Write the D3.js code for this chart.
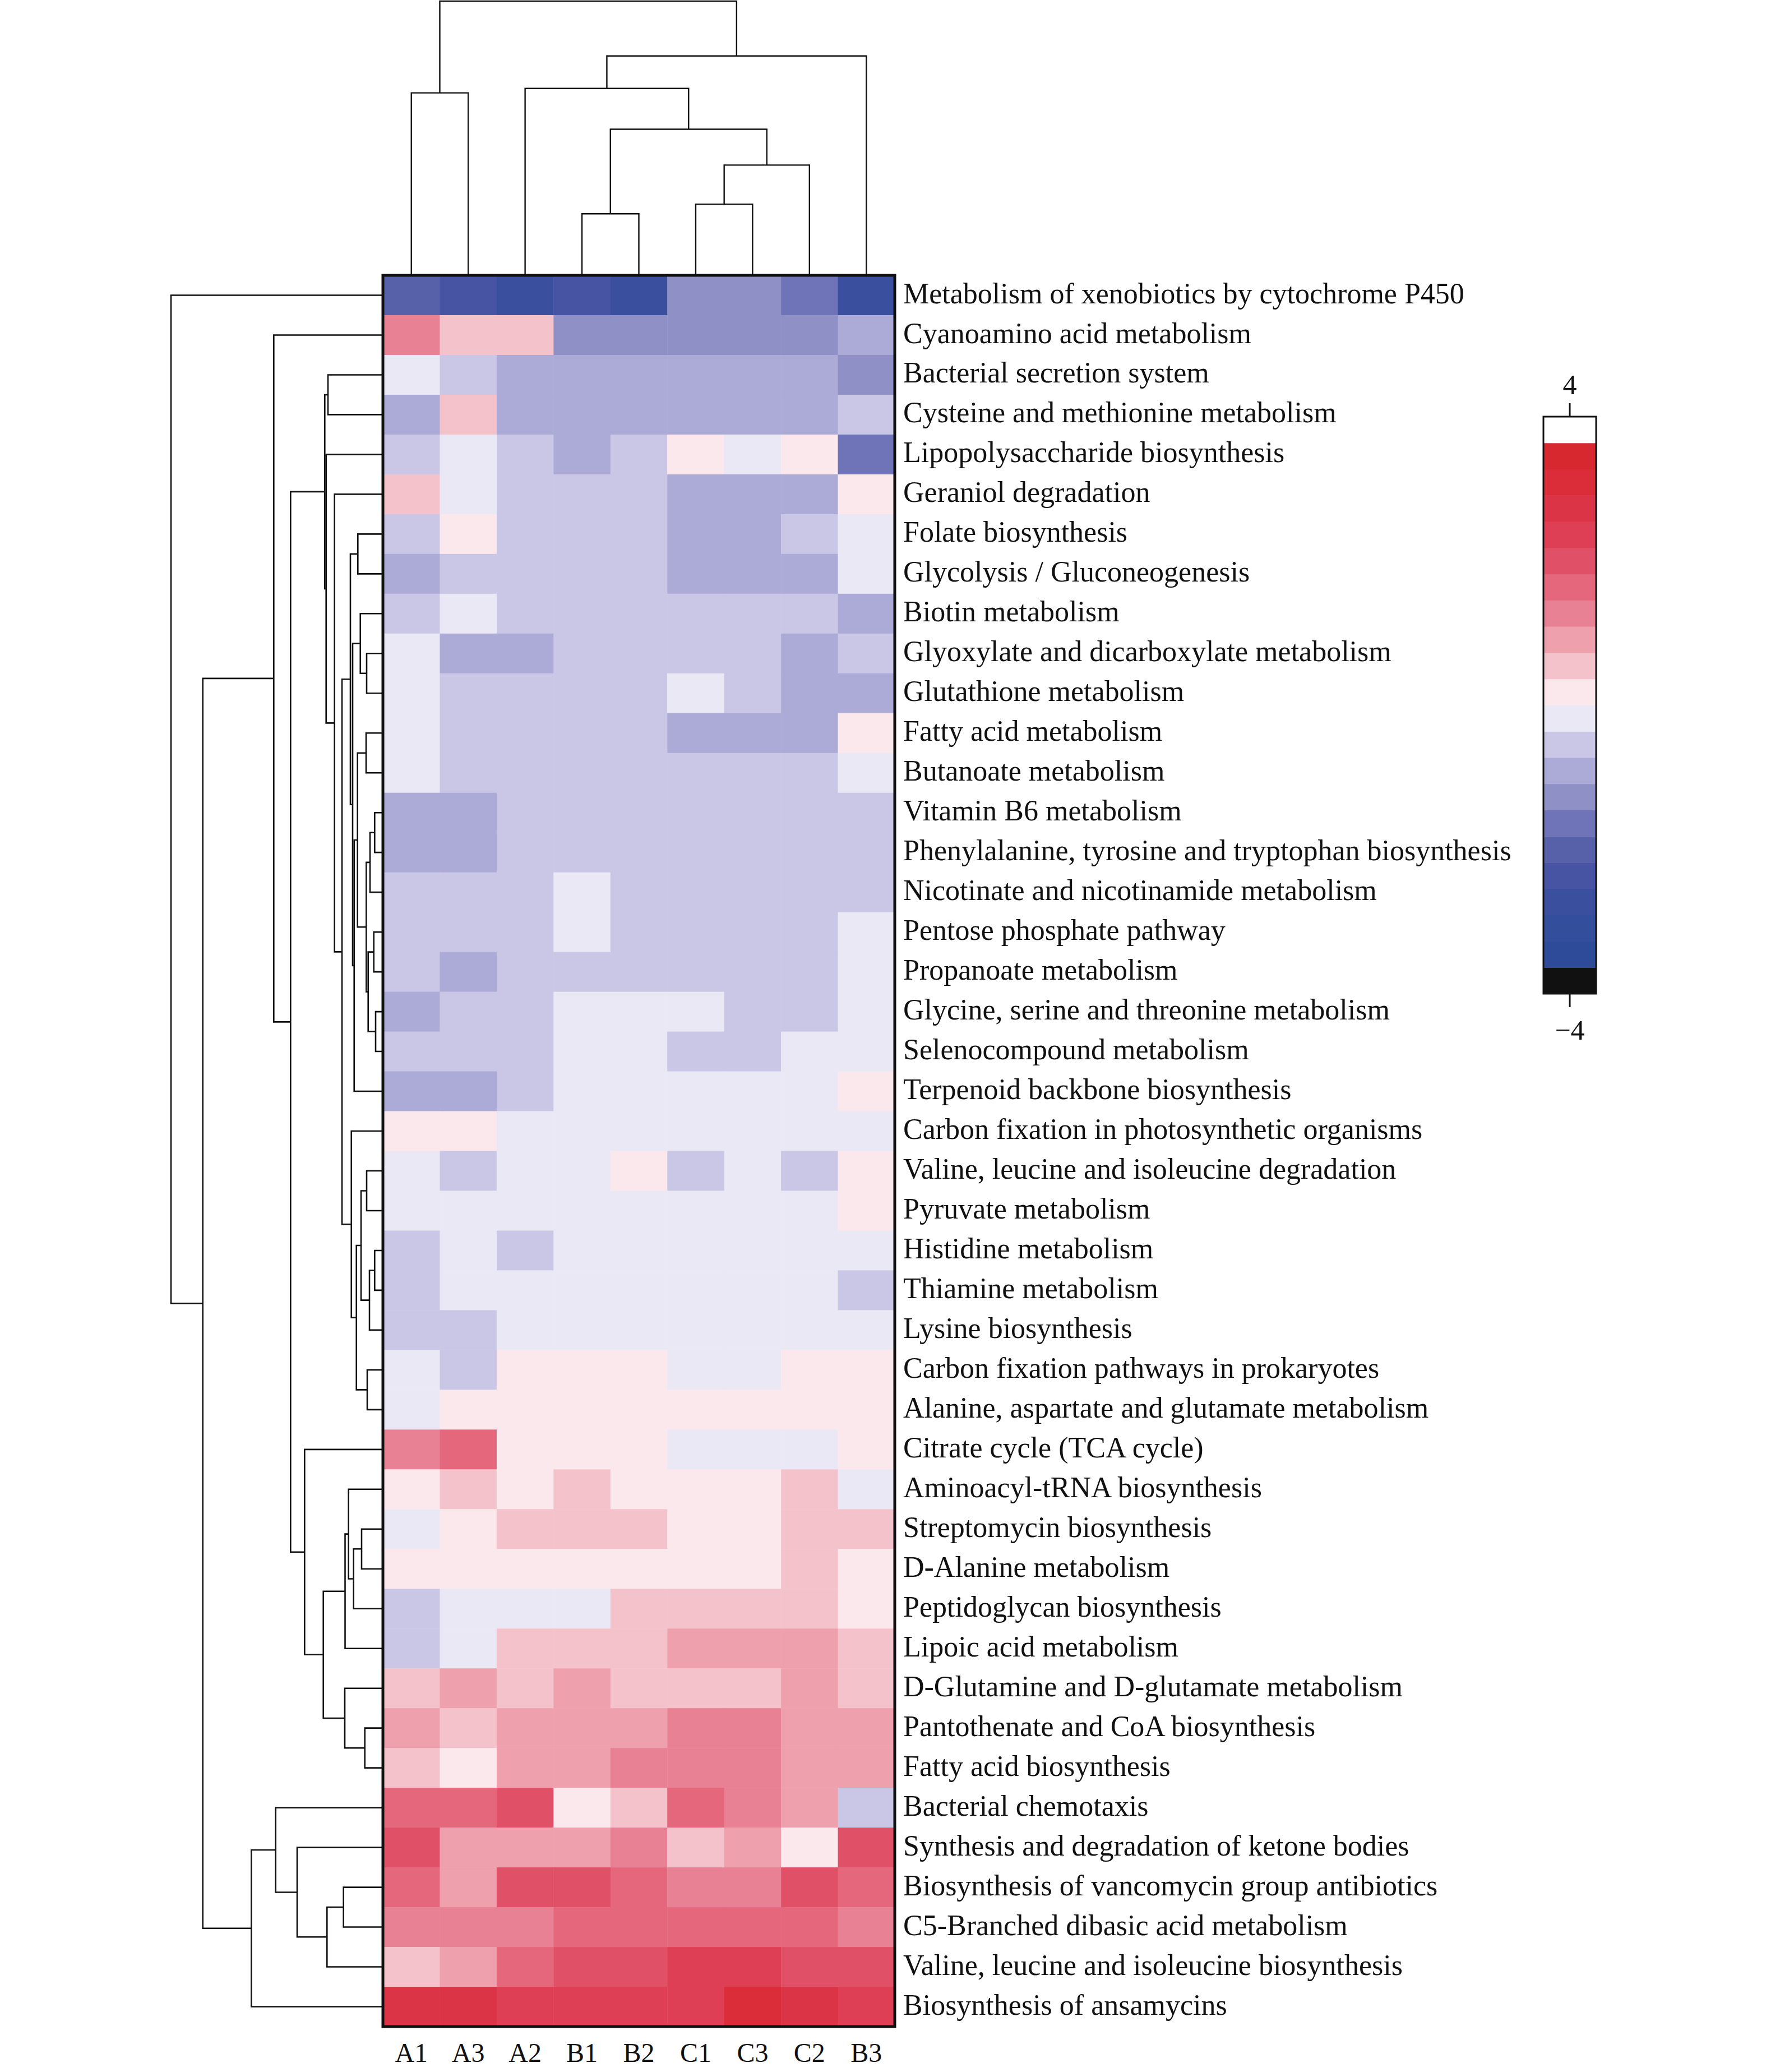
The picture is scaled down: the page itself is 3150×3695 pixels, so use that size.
<!DOCTYPE html>
<html>
<head>
<meta charset="utf-8">
<script src="https://cdn.jsdelivr.net/npm/d3@7"></script>
<style>
  body { margin: 0; background: #fff; }
  text { font-family: "Liberation Serif", "DejaVu Serif", serif; fill: #111; }
</style>
</head>
<body>
<div id="chart"></div>
<script>
// samples, in clustered order
const samples = ["A1", "A3", "A2", "B1", "B2", "C1", "C3", "C2", "B3"];

// pathways, in clustered order
const pathways = [
  "Metabolism of xenobiotics by cytochrome P450",
  "Cyanoamino acid metabolism",
  "Bacterial secretion system",
  "Cysteine and methionine metabolism",
  "Lipopolysaccharide biosynthesis",
  "Geraniol degradation",
  "Folate biosynthesis",
  "Glycolysis / Gluconeogenesis",
  "Biotin metabolism",
  "Glyoxylate and dicarboxylate metabolism",
  "Glutathione metabolism",
  "Fatty acid metabolism",
  "Butanoate metabolism",
  "Vitamin B6 metabolism",
  "Phenylalanine, tyrosine and tryptophan biosynthesis",
  "Nicotinate and nicotinamide metabolism",
  "Pentose phosphate pathway",
  "Propanoate metabolism",
  "Glycine, serine and threonine metabolism",
  "Selenocompound metabolism",
  "Terpenoid backbone biosynthesis",
  "Carbon fixation in photosynthetic organisms",
  "Valine, leucine and isoleucine degradation",
  "Pyruvate metabolism",
  "Histidine metabolism",
  "Thiamine metabolism",
  "Lysine biosynthesis",
  "Carbon fixation pathways in prokaryotes",
  "Alanine, aspartate and glutamate metabolism",
  "Citrate cycle (TCA cycle)",
  "Aminoacyl-tRNA biosynthesis",
  "Streptomycin biosynthesis",
  "D-Alanine metabolism",
  "Peptidoglycan biosynthesis",
  "Lipoic acid metabolism",
  "D-Glutamine and D-glutamate metabolism",
  "Pantothenate and CoA biosynthesis",
  "Fatty acid biosynthesis",
  "Bacterial chemotaxis",
  "Synthesis and degradation of ketone bodies",
  "Biosynthesis of vancomycin group antibiotics",
  "C5-Branched dibasic acid metabolism",
  "Valine, leucine and isoleucine biosynthesis",
  "Biosynthesis of ansamycins"
];

// z-scores, one row per pathway, columns follow samples
const zValues = [
  [-2.0, -2.4, -2.7, -2.4, -2.7, -1.3, -1.3, -1.6, -2.7],
  [ 1.3,  0.5,  0.5, -1.3, -1.3, -1.3, -1.3, -1.3, -0.9],
  [-0.2, -0.5, -0.9, -0.9, -0.9, -0.9, -0.9, -0.9, -1.3],
  [-0.9,  0.5, -0.9, -0.9, -0.9, -0.9, -0.9, -0.9, -0.5],
  [-0.5, -0.2, -0.5, -0.9, -0.5,  0.2, -0.2,  0.2, -1.6],
  [ 0.5, -0.2, -0.5, -0.5, -0.5, -0.9, -0.9, -0.9,  0.2],
  [-0.5,  0.2, -0.5, -0.5, -0.5, -0.9, -0.9, -0.5, -0.2],
  [-0.9, -0.5, -0.5, -0.5, -0.5, -0.9, -0.9, -0.9, -0.2],
  [-0.5, -0.2, -0.5, -0.5, -0.5, -0.5, -0.5, -0.5, -0.9],
  [-0.2, -0.9, -0.9, -0.5, -0.5, -0.5, -0.5, -0.9, -0.5],
  [-0.2, -0.5, -0.5, -0.5, -0.5, -0.2, -0.5, -0.9, -0.9],
  [-0.2, -0.5, -0.5, -0.5, -0.5, -0.9, -0.9, -0.9,  0.2],
  [-0.2, -0.5, -0.5, -0.5, -0.5, -0.5, -0.5, -0.5, -0.2],
  [-0.9, -0.9, -0.5, -0.5, -0.5, -0.5, -0.5, -0.5, -0.5],
  [-0.9, -0.9, -0.5, -0.5, -0.5, -0.5, -0.5, -0.5, -0.5],
  [-0.5, -0.5, -0.5, -0.2, -0.5, -0.5, -0.5, -0.5, -0.5],
  [-0.5, -0.5, -0.5, -0.2, -0.5, -0.5, -0.5, -0.5, -0.2],
  [-0.5, -0.9, -0.5, -0.5, -0.5, -0.5, -0.5, -0.5, -0.2],
  [-0.9, -0.5, -0.5, -0.2, -0.2, -0.2, -0.5, -0.5, -0.2],
  [-0.5, -0.5, -0.5, -0.2, -0.2, -0.5, -0.5, -0.2, -0.2],
  [-0.9, -0.9, -0.5, -0.2, -0.2, -0.2, -0.2, -0.2,  0.2],
  [ 0.2,  0.2, -0.2, -0.2, -0.2, -0.2, -0.2, -0.2, -0.2],
  [-0.2, -0.5, -0.2, -0.2,  0.2, -0.5, -0.2, -0.5,  0.2],
  [-0.2, -0.2, -0.2, -0.2, -0.2, -0.2, -0.2, -0.2,  0.2],
  [-0.5, -0.2, -0.5, -0.2, -0.2, -0.2, -0.2, -0.2, -0.2],
  [-0.5, -0.2, -0.2, -0.2, -0.2, -0.2, -0.2, -0.2, -0.5],
  [-0.5, -0.5, -0.2, -0.2, -0.2, -0.2, -0.2, -0.2, -0.2],
  [-0.2, -0.5,  0.2,  0.2,  0.2, -0.2, -0.2,  0.2,  0.2],
  [-0.2,  0.2,  0.2,  0.2,  0.2,  0.2,  0.2,  0.2,  0.2],
  [ 1.3,  1.6,  0.2,  0.2,  0.2, -0.2, -0.2, -0.2,  0.2],
  [ 0.2,  0.5,  0.2,  0.5,  0.2,  0.2,  0.2,  0.5, -0.2],
  [-0.2,  0.2,  0.5,  0.5,  0.5,  0.2,  0.2,  0.5,  0.5],
  [ 0.2,  0.2,  0.2,  0.2,  0.2,  0.2,  0.2,  0.5,  0.2],
  [-0.5, -0.2, -0.2, -0.2,  0.5,  0.5,  0.5,  0.5,  0.2],
  [-0.5, -0.2,  0.5,  0.5,  0.5,  0.9,  0.9,  0.9,  0.5],
  [ 0.5,  0.9,  0.5,  0.9,  0.5,  0.5,  0.5,  0.9,  0.5],
  [ 0.9,  0.5,  0.9,  0.9,  0.9,  1.3,  1.3,  0.9,  0.9],
  [ 0.5,  0.2,  0.9,  0.9,  1.3,  1.3,  1.3,  0.9,  0.9],
  [ 1.6,  1.6,  2.0,  0.2,  0.5,  1.6,  1.3,  0.9, -0.5],
  [ 2.0,  0.9,  0.9,  0.9,  1.3,  0.5,  0.9,  0.2,  2.0],
  [ 1.6,  0.9,  2.0,  2.0,  1.6,  1.3,  1.3,  2.0,  1.6],
  [ 1.3,  1.3,  1.3,  1.6,  1.6,  1.6,  1.6,  1.6,  1.3],
  [ 0.5,  0.9,  1.6,  2.0,  2.0,  2.4,  2.4,  2.0,  2.0],
  [ 2.7,  2.7,  2.4,  2.4,  2.4,  2.4,  3.1,  2.7,  2.4]
];

// column clustering: [left, right, height]; numbers are leaves, "mK" is merge K
const colMerges = [
  [0, 1, 32.6],
  [3, 4, 11.0],
  [5, 6, 12.7],
  ["m2", 7, 19.7],
  ["m1", "m3", 26.1],
  [2, "m4", 33.4],
  ["m5", 8, 39.2],
  ["m0", "m6", 49.0]
];

// row clustering, same layout
const rowMerges = [
  [2, 3, 9.8],
  [6, 7, 4.47],
  [9, 10, 2.9],
  [8, "m2", 4.03],
  [11, 12, 3.0],
  [13, 14, 1.47],
  ["m5", 15, 2.3],
  [16, 17, 1.63],
  [18, 19, 1.3],
  ["m7", "m8", 2.63],
  ["m6", "m9", 2.97],
  ["m4", "m10", 4.53],
  ["m11", 20, 5.13],
  ["m3", "m12", 5.4],
  ["m1", "m13", 5.8],
  [22, 23, 2.9],
  [24, 25, 1.47],
  ["m16", 26, 2.4],
  ["m15", "m17", 3.9],
  [27, 28, 2.8],
  ["m18", "m19", 4.73],
  [21, "m20", 5.63],
  ["m14", "m21", 7.3],
  [5, "m22", 8.63],
  [4, "m23", 10.13],
  ["m0", "m24", 10.37],
  [31, 32, 3.8],
  ["m26", 33, 5.23],
  [30, "m27", 6.13],
  ["m28", 34, 6.75],
  [36, 37, 3.23],
  [35, "m30", 6.8],
  ["m29", "m31", 10.63],
  [29, "m32", 13.97],
  ["m25", "m33", 16.47],
  [1, "m34", 19.47],
  [40, 41, 7.03],
  ["m36", 42, 9.97],
  [39, "m37", 15.3],
  [38, "m38", 19.13],
  ["m39", 43, 23.47],
  ["m35", "m40", 32.13],
  [0, "m41", 37.8]
];

// colour key, bottom (-4) to top (4)
const keyColors = [
  "#111111", "#2e4b9a", "#334f9c", "#3a4f9d", "#4654a3", "#5661aa",
  "#6e74b7", "#8f90c6", "#acaad6", "#c9c7e5", "#ebe8f5", "#fbe8ec",
  "#f4c2cb", "#eea0ad", "#e98195", "#e4677c", "#e05168", "#de3f54",
  "#dc3447", "#da2d39", "#d8282f", "#ffffff"
];
const keyTicks = [4, -4];

const width = 3150, height = 3695;
const margin = { left: 683, top: 491, right: 1596, bottom: 3614 };

const svg = d3.select("#chart").append("svg")
  .attr("width", width)
  .attr("height", height)
  .style("background", "#fff");

// scales
const x = d3.scaleBand().domain(d3.range(samples.length)).range([margin.left, margin.right]);
const y = d3.scaleBand().domain(d3.range(pathways.length)).range([margin.top, margin.bottom]);
const color = d3.scaleQuantize().domain([-4, 4]).range(keyColors);

// heatmap cells
const cells = [];
zValues.forEach((row, i) => row.forEach((v, j) => cells.push({ i, j, v })));

svg.append("g").selectAll("rect")
  .data(cells)
  .join("rect")
  .attr("x", d => x(d.j))
  .attr("y", d => y(d.i))
  .attr("width", x.bandwidth() + 0.5)
  .attr("height", y.bandwidth() + 0.5)
  .attr("fill", d => color(d.v));

// dendrogram helper: returns list of {pa, ha, pb, hb, h}
function layoutTree(merges) {
  const pos = [], hgt = [];
  const ref = c => typeof c === "number" ? [c, 0] : [pos[+c.slice(1)], hgt[+c.slice(1)]];
  return merges.map(([a, b, h], k) => {
    const [pa, ha] = ref(a), [pb, hb] = ref(b);
    pos[k] = (pa + pb) / 2;
    hgt[k] = h;
    return { pa, ha, pb, hb, h };
  });
}

// column dendrogram (top)
const colH = d3.scaleLinear().domain([0, 49]).range([margin.top, 2]);
const colPos = p => x(0) + x.bandwidth() * (p + 0.5);

svg.append("g").selectAll("path")
  .data(layoutTree(colMerges))
  .join("path")
  .attr("d", d => `M${colPos(d.pa)},${colH(d.ha)}V${colH(d.h)}H${colPos(d.pb)}V${colH(d.hb)}`)
  .attr("fill", "none")
  .attr("stroke", "#111")
  .attr("stroke-width", 2.4);

// row dendrogram (left)
const rowH = d3.scaleLinear().domain([0, 37.8]).range([margin.left, 305]);
const rowPos = p => y(0) + y.bandwidth() * (p + 0.5);

svg.append("g").selectAll("path")
  .data(layoutTree(rowMerges))
  .join("path")
  .attr("d", d => `M${rowH(d.ha)},${rowPos(d.pa)}H${rowH(d.h)}V${rowPos(d.pb)}H${rowH(d.hb)}`)
  .attr("fill", "none")
  .attr("stroke", "#111")
  .attr("stroke-width", 2.6);

// heatmap frame
svg.append("rect")
  .attr("x", margin.left)
  .attr("y", margin.top)
  .attr("width", margin.right - margin.left)
  .attr("height", margin.bottom - margin.top)
  .attr("fill", "none")
  .attr("stroke", "#111")
  .attr("stroke-width", 5);

// row labels
svg.append("g").selectAll("text")
  .data(pathways)
  .join("text")
  .attr("x", 1611)
  .attr("y", (d, i) => y(i) + y.bandwidth() / 2)
  .attr("dy", "0.27em")
  .attr("font-size", 52)
  .text(d => d);

// column labels
svg.append("g").selectAll("text")
  .data(samples)
  .join("text")
  .attr("x", (d, i) => x(i) + x.bandwidth() / 2)
  .attr("y", 3677)
  .attr("text-anchor", "middle")
  .attr("font-size", 48)
  .text(d => d);

// colour key
const keyX = 2753, keyW = 94;
const keyY = d3.scaleLinear().domain([-4, 4]).range([1772, 743]);
const key = svg.append("g");

key.selectAll("rect")
  .data(keyColors)
  .join("rect")
  .attr("x", keyX)
  .attr("y", c => keyY(color.invertExtent(c)[1]))
  .attr("width", keyW)
  .attr("height", c => keyY(color.invertExtent(c)[0]) - keyY(color.invertExtent(c)[1]) + 0.5)
  .attr("fill", c => c);

key.append("rect")
  .attr("x", keyX)
  .attr("y", keyY(4))
  .attr("width", keyW)
  .attr("height", keyY(-4) - keyY(4))
  .attr("fill", "none")
  .attr("stroke", "#111")
  .attr("stroke-width", 3);

const tick = key.selectAll("g.tick")
  .data(keyTicks)
  .join("g")
  .attr("class", "tick");

tick.append("line")
  .attr("x1", keyX + keyW / 2)
  .attr("x2", keyX + keyW / 2)
  .attr("y1", d => keyY(d))
  .attr("y2", d => keyY(d) + (d > 0 ? -24 : 24))
  .attr("stroke", "#111")
  .attr("stroke-width", 3);

tick.append("text")
  .attr("x", keyX + keyW / 2)
  .attr("y", d => d > 0 ? keyY(d) - 40 : keyY(d) + 82)
  .attr("text-anchor", "middle")
  .attr("font-size", 50)
  .text(d => d > 0 ? d : "\u2212" + Math.abs(d));
</script>
</body>
</html>
